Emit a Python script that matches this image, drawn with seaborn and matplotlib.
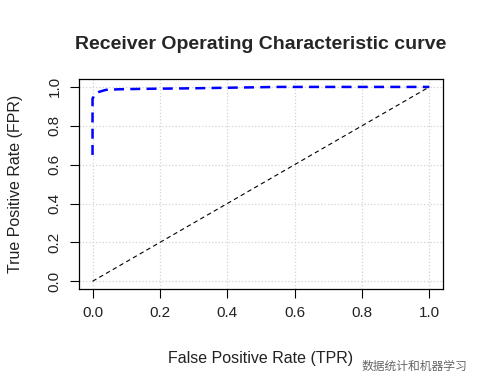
import numpy as np
import pandas as pd
import matplotlib
matplotlib.use("Agg")
import matplotlib.pyplot as plt
import seaborn as sns

# ROC curve points
fpr = [0.0, 0.0, 0.0, 0.005, 0.01, 0.02, 0.04, 0.08, 0.15, 0.3, 0.55, 0.8, 1.0]
tpr = [0.65, 0.85, 0.94, 0.955, 0.965, 0.975, 0.985, 0.988, 0.99, 0.993, 1.0, 1.0, 1.0]
diag = [0.0, 1.0]
ticks = [0.0, 0.2, 0.4, 0.6, 0.8, 1.0]
tick_labels = ["0.0", "0.2", "0.4", "0.6", "0.8", "1.0"]

sns.set_style("white")
plt.rcParams['font.family'] = ['Liberation Sans', 'DejaVu Sans']

roc = pd.DataFrame({'fpr': fpr, 'tpr': tpr})
ref = pd.DataFrame({'x': diag, 'y': diag})

fig = plt.figure(figsize=(4.85, 3.88), dpi=100)
ax = fig.add_axes([0.163, 0.255, 0.75, 0.541])

sns.lineplot(data=roc, x='fpr', y='tpr', sort=False, estimator=None, ax=ax,
             color='blue', linewidth=1.8, linestyle=(0, (4, 2.5)))
sns.lineplot(data=ref, x='x', y='y', sort=False, estimator=None, ax=ax,
             color='black', linewidth=0.8, linestyle=(0, (4, 3)))

ax.set_xlim(-0.04, 1.04)
ax.set_ylim(-0.04, 1.04)
ax.set_xticks(ticks)
ax.set_xticklabels(tick_labels, fontsize=11, color='#222222')
ax.set_yticks(ticks)
ax.set_yticklabels(tick_labels, fontsize=11, rotation=90, va='center', color='#222222')
ax.tick_params(direction='out', length=6.5, width=0.8, color='black',
               left=True, bottom=True, pad=6)
ax.grid(True, color='#d3d3d3', linestyle=':', linewidth=0.9)
for s in ax.spines.values():
    s.set_color('black')
    s.set_linewidth(0.9)

ax.set_title('Receiver Operating Characteristic curve', fontsize=14,
             fontweight='bold', pad=22)
ax.set_xlabel('False Positive Rate (TPR)', fontsize=11.5, labelpad=22, color='#222222')
ax.set_ylabel('True Positive Rate (FPR)', fontsize=11.5, labelpad=18, color='#222222')

fig.text(0.746, 0.057, '数据统计和机器学习', fontsize=8.5, color='#666666',
         family=['Noto Sans CJK SC', 'DejaVu Sans'], va='center')

fig.savefig('out.png', dpi=100)
